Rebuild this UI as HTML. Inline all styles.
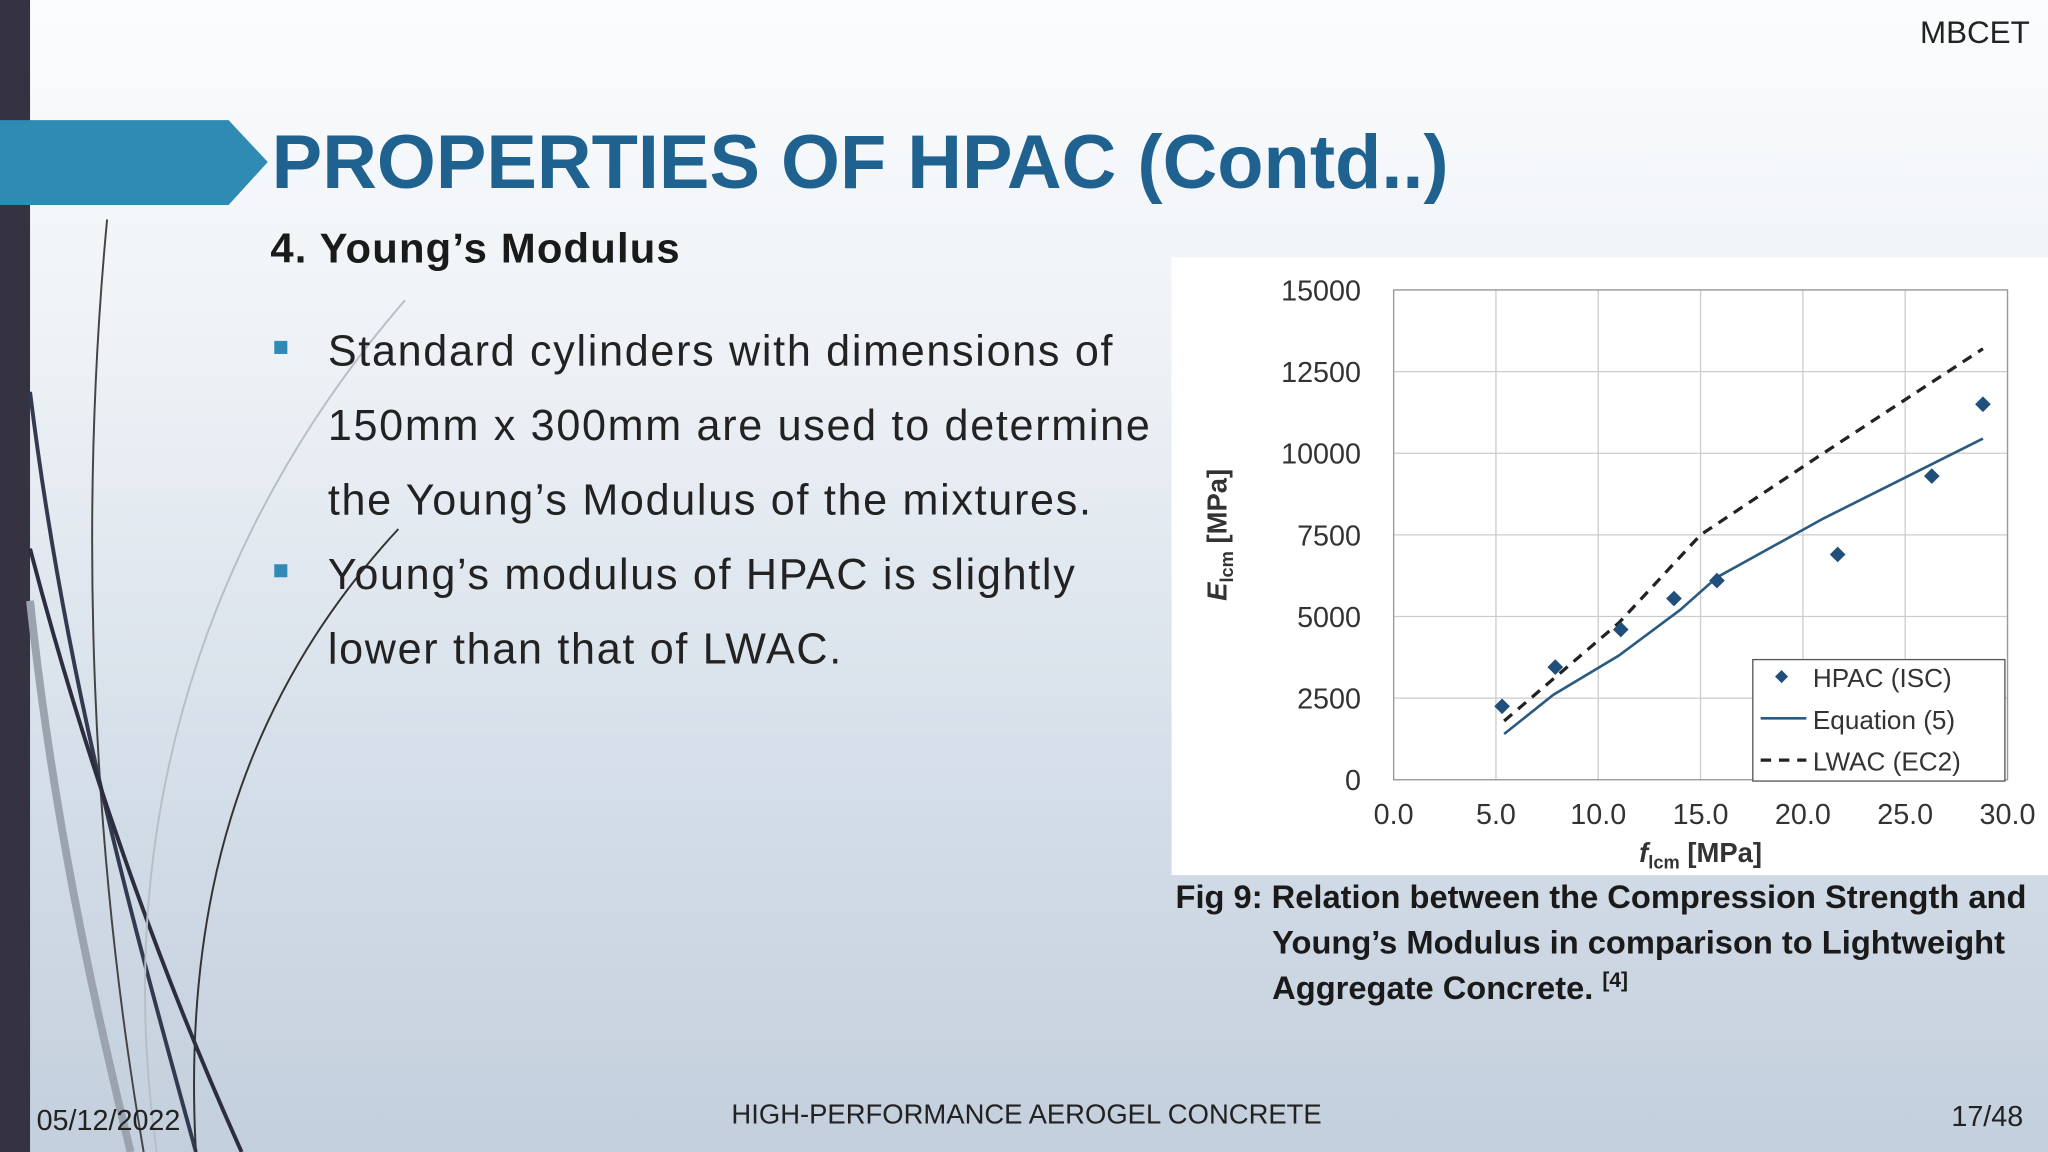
<!DOCTYPE html>
<html><head><meta charset="utf-8"><style>
html,body{margin:0;padding:0;overflow:hidden;width:2048px;height:1152px}
#s{position:absolute;left:0;top:0;width:1568px;height:882px;transform:scale(1.306122);transform-origin:0 0;
background:linear-gradient(180deg,#fbfcfd 0%,#eef2f6 30%,#d3dde8 70%,#c3cfdc 100%);font-family:"Liberation Sans",sans-serif;overflow:hidden}
.t{position:absolute;white-space:nowrap;color:#222}
sup{line-height:0}
</style></head><body>
<div id="s">
<svg width="1568" height="882" style="position:absolute;left:0;top:0">
<rect x="0" y="0" width="23" height="882" fill="#353341"/>
<path d="M82,168 C60,400 70,650 110,882" stroke="#444" stroke-width="1.5" fill="none"/>
<path d="M23,300 C50,520 100,700 150,882" stroke="#333a50" stroke-width="3" fill="none"/>
<path d="M23,420 C70,600 130,760 185,882" stroke="#2d2d40" stroke-width="3" fill="none"/>
<path d="M23,460 C40,620 70,760 100,882" stroke="#9aa3ae" stroke-width="6" fill="none"/>
<path d="M310,230 C180,380 80,600 120,882" stroke="#b8bec6" stroke-width="1.5" fill="none"/>
<path d="M305,405 C180,540 140,700 150,882" stroke="#333" stroke-width="1.5" fill="none"/>
<polygon points="0,92 175,92 205,124 175,157 0,157" fill="#2f8ab4"/>
</svg>
<div class="t" style="left:1470px;top:12px;font-size:24px">MBCET</div>
<div class="t" style="left:208px;top:91px;font-size:58px;font-weight:bold;color:#1f6290">PROPERTIES OF HPAC (Contd..)</div>
<div class="t" style="left:207px;top:172px;font-size:32px;font-weight:bold;color:#1a1a1a;letter-spacing:0.9px">4. Young’s Modulus</div>
<div class="t" style="left:210px;top:261px;width:10px;height:10px;background:#2f8ab4"></div>
<div class="t" style="left:251px;top:240px;font-size:33px;line-height:57px;letter-spacing:1.3px">Standard cylinders with dimensions of<br>150mm x 300mm are used to determine<br>the Young’s Modulus of the mixtures.</div>
<div class="t" style="left:210px;top:432px;width:10px;height:10px;background:#2f8ab4"></div>
<div class="t" style="left:251px;top:411px;font-size:33px;line-height:57px;letter-spacing:1.3px">Young’s modulus of HPAC is slightly<br>lower than that of LWAC.</div>
<svg id="chart" width="671" height="473" style="position:absolute;left:897px;top:197px;background:#fff"></svg>
<div class="t" style="left:900px;top:670px;font-size:25px;font-weight:bold;line-height:35px;color:#1a1a1a">Fig 9: Relation between the Compression Strength and<br><span style="padding-left:74px">Young’s Modulus in comparison to Lightweight</span><br><span style="padding-left:74px">Aggregate Concrete. <sup style="font-size:16px">[4]</sup></span></div>
<div class="t" style="left:28px;top:845px;font-size:22px">05/12/2022</div>
<div class="t" style="left:560px;top:842px;font-size:21px">HIGH-PERFORMANCE AEROGEL CONCRETE</div>
<div class="t" style="left:1494px;top:842px;font-size:22px">17/48</div>
</div>
<script>
const xTicks=[0,5,10,15,20,25,30];
const yTicks=[0,2500,5000,7500,10000,12500,15000];
const hpacX=[5.3,7.9,11.1,13.7,15.8,21.7,26.3,28.8];
const hpacY=[2250,3450,4600,5550,6100,6900,9300,11500];
const eqX=[5.4,7.8,11,14,15.8,21,28.8];
const eqY=[1400,2600,3800,5200,6200,8000,10450];
const lwX=[5.4,11,15,21,28.8];
const lwY=[1800,4800,7500,10000,13200];
const svg=document.getElementById('chart');const NS='http://www.w3.org/2000/svg';
const X=v=>170+v/30*470, Y=v=>400-v/15000*375;
function mk(t,a,p){const e=document.createElementNS(NS,t);for(const k in a)e.setAttribute(k,a[k]);(p||svg).appendChild(e);return e;}
xTicks.forEach(v=>{const l=mk('line',{x1:X(v),x2:X(v),y1:Y(0),y2:Y(15000),stroke:'#ccc'});

const t=mk('text',{x:X(v),y:434,'text-anchor':'middle','font-size':22,fill:'#333'});t.textContent=v.toFixed(1);
});
yTicks.forEach(v=>{const l=mk('line',{x1:X(0),x2:X(30),y1:Y(v),y2:Y(v),stroke:'#ccc'});

const t=mk('text',{x:145,y:Y(v)+8,'text-anchor':'end','font-size':22,fill:'#333'});t.textContent=v;
});
const fr=mk('rect',{x:X(0),y:Y(15000),width:470,height:375,fill:'none',stroke:'#999'});

const lw=mk('polyline',{points:lwX.map((x,i)=>X(x)+','+Y(lwY[i])).join(' '),fill:'none',stroke:'#222','stroke-width':2.5,'stroke-dasharray':'8,6'});

const eq=mk('polyline',{points:eqX.map((x,i)=>X(x)+','+Y(eqY[i])).join(' '),fill:'none',stroke:'#2a5a80','stroke-width':2});

hpacX.forEach((x,i)=>{const cx=X(x),cy=Y(hpacY[i]);const p=mk('polygon',{points:`${cx},${cy-6} ${cx+6},${cy} ${cx},${cy+6} ${cx-6},${cy}`,fill:'#1f4f7a'});
});
const g=mk('g',{});
mk('rect',{x:445,y:308,width:193,height:93,fill:'#fff',stroke:'#555'},g);
mk('polygon',{points:'467,316 472,321 467,326 462,321',fill:'#1f4f7a'},g);
mk('line',{x1:451,x2:486,y1:353,y2:353,stroke:'#2a5a80','stroke-width':2},g);
mk('line',{x1:451,x2:486,y1:385,y2:385,stroke:'#222','stroke-width':2.5,'stroke-dasharray':'8,6'},g);
[['HPAC (ISC)',329],['Equation (5)',361],['LWAC (EC2)',393]].forEach(([s,y])=>{const t=mk('text',{x:491,y:y,'font-size':20,fill:'#333'},g);t.textContent=s;});
const xt=mk('text',{x:X(15),y:463,'text-anchor':'middle','font-size':21,'font-weight':'bold',fill:'#333'});
xt.innerHTML='<tspan font-style="italic">f</tspan><tspan font-size="14" dy="5">lcm</tspan><tspan dy="-5"> [MPa]</tspan>';

const yt=mk('text',{x:0,y:0,'text-anchor':'middle','font-size':21,'font-weight':'bold',fill:'#333',transform:`translate(42,${Y(7500)}) rotate(-90)`});
yt.innerHTML='<tspan font-style="italic">E</tspan><tspan font-size="14" dy="5">lcm</tspan><tspan dy="-5"> [MPa]</tspan>';

</script>
</body></html>
